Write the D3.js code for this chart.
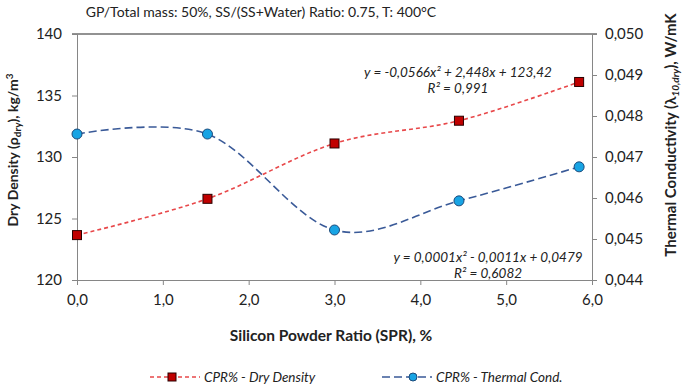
<!DOCTYPE html>
<html>
<head>
<meta charset="utf-8">
<script src="https://cdn.jsdelivr.net/npm/d3@7"></script>
<style>
  body { margin: 0; background: #fff; }
  svg text { font-family: Lato, "Open Sans", sans-serif; fill: #222; }
  .axis path, .axis line { stroke: #868686; }
  .axis text { font-size: 15px; fill: #222; }
</style>
</head>
<body>
<svg id="chart" width="685" height="384"></svg>
<script>
// values
const spr = [0, 1.52, 3.0, 4.45, 5.85];
const dryDensity = [123.65, 126.6, 131.1, 132.95, 136.1];
const thermalCond = [0.04756, 0.04756, 0.04522, 0.04593, 0.04676];

const xTicks = [0, 1, 2, 3, 4, 5, 6];
const densityTicks = [120, 125, 130, 135, 140];
const condTicks = [0.044, 0.045, 0.046, 0.047, 0.048, 0.049, 0.050];

const densityTrend = ['y = -0,0566x² + 2,448x + 123,42', 'R² = 0,991'];
const condTrend = ['y = 0,0001x² - 0,0011x + 0,0479', 'R² = 0,6082'];

const comma = d3.formatLocale({ decimal: ',', thousands: '.', grouping: [3], currency: ['', ''] });

const margin = { top: 34, right: 93, bottom: 104, left: 77 };
const width = 685, height = 384;

const svg = d3.select('#chart');

const x = d3.scaleLinear().domain([0, 6]).range([margin.left, width - margin.right]);
const yL = d3.scaleLinear().domain([120, 140]).range([height - margin.bottom, margin.top]);
const yR = d3.scaleLinear().domain([0.044, 0.050]).range([height - margin.bottom, margin.top]);

// title
svg.append('text')
  .attr('x', 261).attr('y', 17)
  .attr('text-anchor', 'middle')
  .style('font-size', '14px')
  .text('GP/Total mass: 50%, SS/(SS+Water) Ratio: 0.75, T: 400°C');

// top border of plot
svg.append('line')
  .attr('x1', x(0) - 5).attr('x2', x(6) + 5)
  .attr('y1', yL(140)).attr('y2', yL(140))
  .attr('stroke', '#6e6e6e').attr('stroke-width', 1.5);

// axes
svg.append('g').attr('class', 'axis')
  .attr('transform', `translate(0,${yL(120)})`)
  .call(d3.axisBottom(x).tickValues(xTicks).tickSizeOuter(0).tickSize(5).tickPadding(9)
    .tickFormat(comma.format('.1f')));

svg.append('g').attr('class', 'axis')
  .attr('transform', `translate(${x(0)},0)`)
  .call(d3.axisLeft(yL).tickValues(densityTicks).tickSizeOuter(0).tickSize(5).tickPadding(10));

svg.append('g').attr('class', 'axis')
  .attr('transform', `translate(${x(6)},0)`)
  .call(d3.axisRight(yR).tickValues(condTicks).tickSizeOuter(0).tickSize(5).tickPadding(8)
    .tickFormat(comma.format('.3f')));

// axis titles
svg.append('text')
  .attr('x', 331).attr('y', 341)
  .attr('text-anchor', 'middle')
  .style('font-size', '15.5px').style('font-weight', 'bold')
  .text('Silicon Powder Ratio (SPR), %');

const lt = svg.append('text')
  .attr('transform', 'translate(18,150) rotate(-90)')
  .attr('text-anchor', 'middle')
  .style('font-size', '14px').style('font-weight', 'bold');
lt.append('tspan').text('Dry Density (ρ');
lt.append('tspan').attr('dy', 3).style('font-size', '10px').text('dry');
lt.append('tspan').attr('dy', -3).text('), kg/m');
lt.append('tspan').attr('dy', -5).style('font-size', '10px').text('3');

const rt = svg.append('text')
  .attr('transform', 'translate(676,135) rotate(-90)')
  .attr('text-anchor', 'middle')
  .style('font-size', '15px').style('font-weight', 'bold');
rt.append('tspan').text('Thermal Conductivity  (λ');
rt.append('tspan').attr('dy', 3).style('font-size', '10px').style('font-style', 'italic').text('10,dry');
rt.append('tspan').attr('dy', -3).text('), W/mK');

// series
const densPts = spr.map((s, i) => [x(s), yL(dryDensity[i])]);
const condPts = spr.map((s, i) => [x(s), yR(thermalCond[i])]);
const curve = d3.line().curve(d3.curveCatmullRom.alpha(0));

svg.append('path')
  .attr('d', curve(condPts))
  .attr('fill', 'none')
  .attr('stroke', '#3a5a98').attr('stroke-width', 1.6)
  .attr('stroke-dasharray', '8,4');

svg.append('path')
  .attr('d', curve(densPts))
  .attr('fill', 'none')
  .attr('stroke', '#e8484a').attr('stroke-width', 1.6)
  .attr('stroke-dasharray', '4,3');

svg.selectAll('.cmark').data(condPts).join('circle')
  .attr('cx', d => d[0]).attr('cy', d => d[1]).attr('r', 5)
  .attr('fill', '#18a4e4').attr('stroke', '#1d4a7a').attr('stroke-width', 1);

svg.selectAll('.dmark').data(densPts).join('rect')
  .attr('x', d => d[0] - 4.5).attr('y', d => d[1] - 4.5)
  .attr('width', 9).attr('height', 9)
  .attr('fill', '#c00000').attr('stroke', '#2a0000').attr('stroke-width', 1);

// trendline equations
svg.selectAll('.teq1').data(densityTrend).join('text')
  .attr('x', 458).attr('y', (d, i) => 77 + i * 16)
  .attr('text-anchor', 'middle')
  .style('font-size', '13.5px').style('font-style', 'italic')
  .text(d => d);

svg.selectAll('.teq2').data(condTrend).join('text')
  .attr('x', 488).attr('y', (d, i) => 262 + i * 16)
  .attr('text-anchor', 'middle')
  .style('font-size', '13.5px').style('font-style', 'italic')
  .text(d => d);

// legend
const legend = [
  { name: 'CPR% - Dry Density', x0: 150, color: '#e8484a', dash: '4,3', shape: 'rect' },
  { name: 'CPR% - Thermal Cond.', x0: 382, color: '#3a5a98', dash: '8,4', shape: 'circle' }
];
const lg = svg.selectAll('.lg').data(legend).join('g')
  .attr('transform', d => `translate(${d.x0},377)`);
lg.append('line')
  .attr('x1', 0).attr('x2', 50)
  .attr('stroke', d => d.color).attr('stroke-width', 1.6)
  .attr('stroke-dasharray', d => d.dash);
lg.filter(d => d.shape === 'rect').append('rect')
  .attr('x', 18).attr('y', -4).attr('width', 8).attr('height', 8)
  .attr('fill', '#c00000').attr('stroke', '#2a0000');
lg.filter(d => d.shape === 'circle').append('circle')
  .attr('cx', 31).attr('r', 4)
  .attr('fill', '#18a4e4').attr('stroke', '#1d4a7a');
lg.append('text')
  .attr('x', 54).attr('y', 5)
  .style('font-size', '13.5px').style('font-style', 'italic')
  .text(d => d.name);
</script>
</body>
</html>
